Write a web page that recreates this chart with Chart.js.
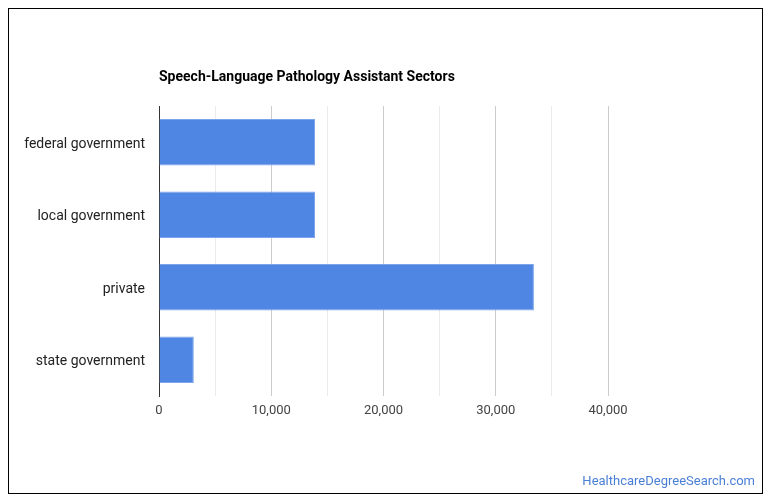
<!DOCTYPE html>
<html>
<head>
<meta charset="utf-8">
<script src="https://cdn.jsdelivr.net/npm/chart.js@4"></script>
<style>
  body { margin: 0; background: #fff; }
  #wrap { position: relative; width: 770px; height: 503px; }
  #frame { position: absolute; left: 8px; top: 8px; width: 753px; height: 484px; border: 1px solid #000; pointer-events: none; }
</style>
</head>
<body>
<div id="wrap">
  <canvas id="myChart" width="770" height="503"></canvas>
  <div id="frame"></div>
</div>
<script>
  const sectors = ["federal government", "local government", "private", "state government"];
  const workers = [13900, 13900, 33400, 3100];
  const tickLabels = [0, 10000, 20000, 30000, 40000];
  const chartTitle = "Speech-Language Pathology Assistant Sectors";
  const siteName = "HealthcareDegreeSearch.com";

  // title over the plot and the site name in the corner
  const extraText = {
    id: "extraText",
    afterDraw(chart) {
      let c = chart.ctx;
      c.save();
      c.fillStyle = "#000";
      c.font = "bold 14px Roboto";
      c.textAlign = "left";
      c.textBaseline = "alphabetic";
      c.fillText(chartTitle, chart.chartArea.left, 81);
      c.fillStyle = "#4a7fd6";
      c.font = "13px Roboto";
      c.textAlign = "right";
      c.fillText(siteName, 755, 485);
      c.restore();
    }
  };

  const ctx = document.getElementById("myChart");
  new Chart(ctx, {
    type: "bar",
    data: {
      labels: sectors,
      datasets: [{
        data: workers,
        backgroundColor: "#5086e3",
        borderColor: "#7ba4ea",
        borderWidth: 1,
        categoryPercentage: 1,
        barPercentage: 0.64
      }]
    },
    options: {
      indexAxis: "y",
      responsive: false,
      animation: false,
      layout: { padding: { top: 106, right: 162, left: 0, bottom: 0 } },
      plugins: { legend: { display: false }, tooltip: { enabled: false } },
      scales: {
        x: {
          min: 0,
          max: 40000,
          border: { display: false },
          afterFit(scale) { scale.height = 107; },
          grid: {
            drawTicks: false,
            color: (c) => (c.tick && tickLabels.includes(c.tick.value)) ? "#cccccc" : "#ebebeb"
          },
          ticks: {
            stepSize: 5000,
            autoSkip: false,
            maxRotation: 0,
            padding: 7,
            color: "#444",
            font: { family: "Roboto", size: 13 },
            callback: (v) => tickLabels.includes(v) ? v.toLocaleString("en-US") : ""
          }
        },
        y: {
          border: { display: true, color: "#333", width: 1 },
          afterFit(scale) { scale.width = 159; },
          grid: { display: false, drawTicks: false },
          ticks: {
            padding: 14,
            labelOffset: 2,
            color: "#222",
            font: { family: "Roboto", size: 14 }
          }
        }
      }
    },
    plugins: [extraText]
  });
</script>
</body>
</html>
